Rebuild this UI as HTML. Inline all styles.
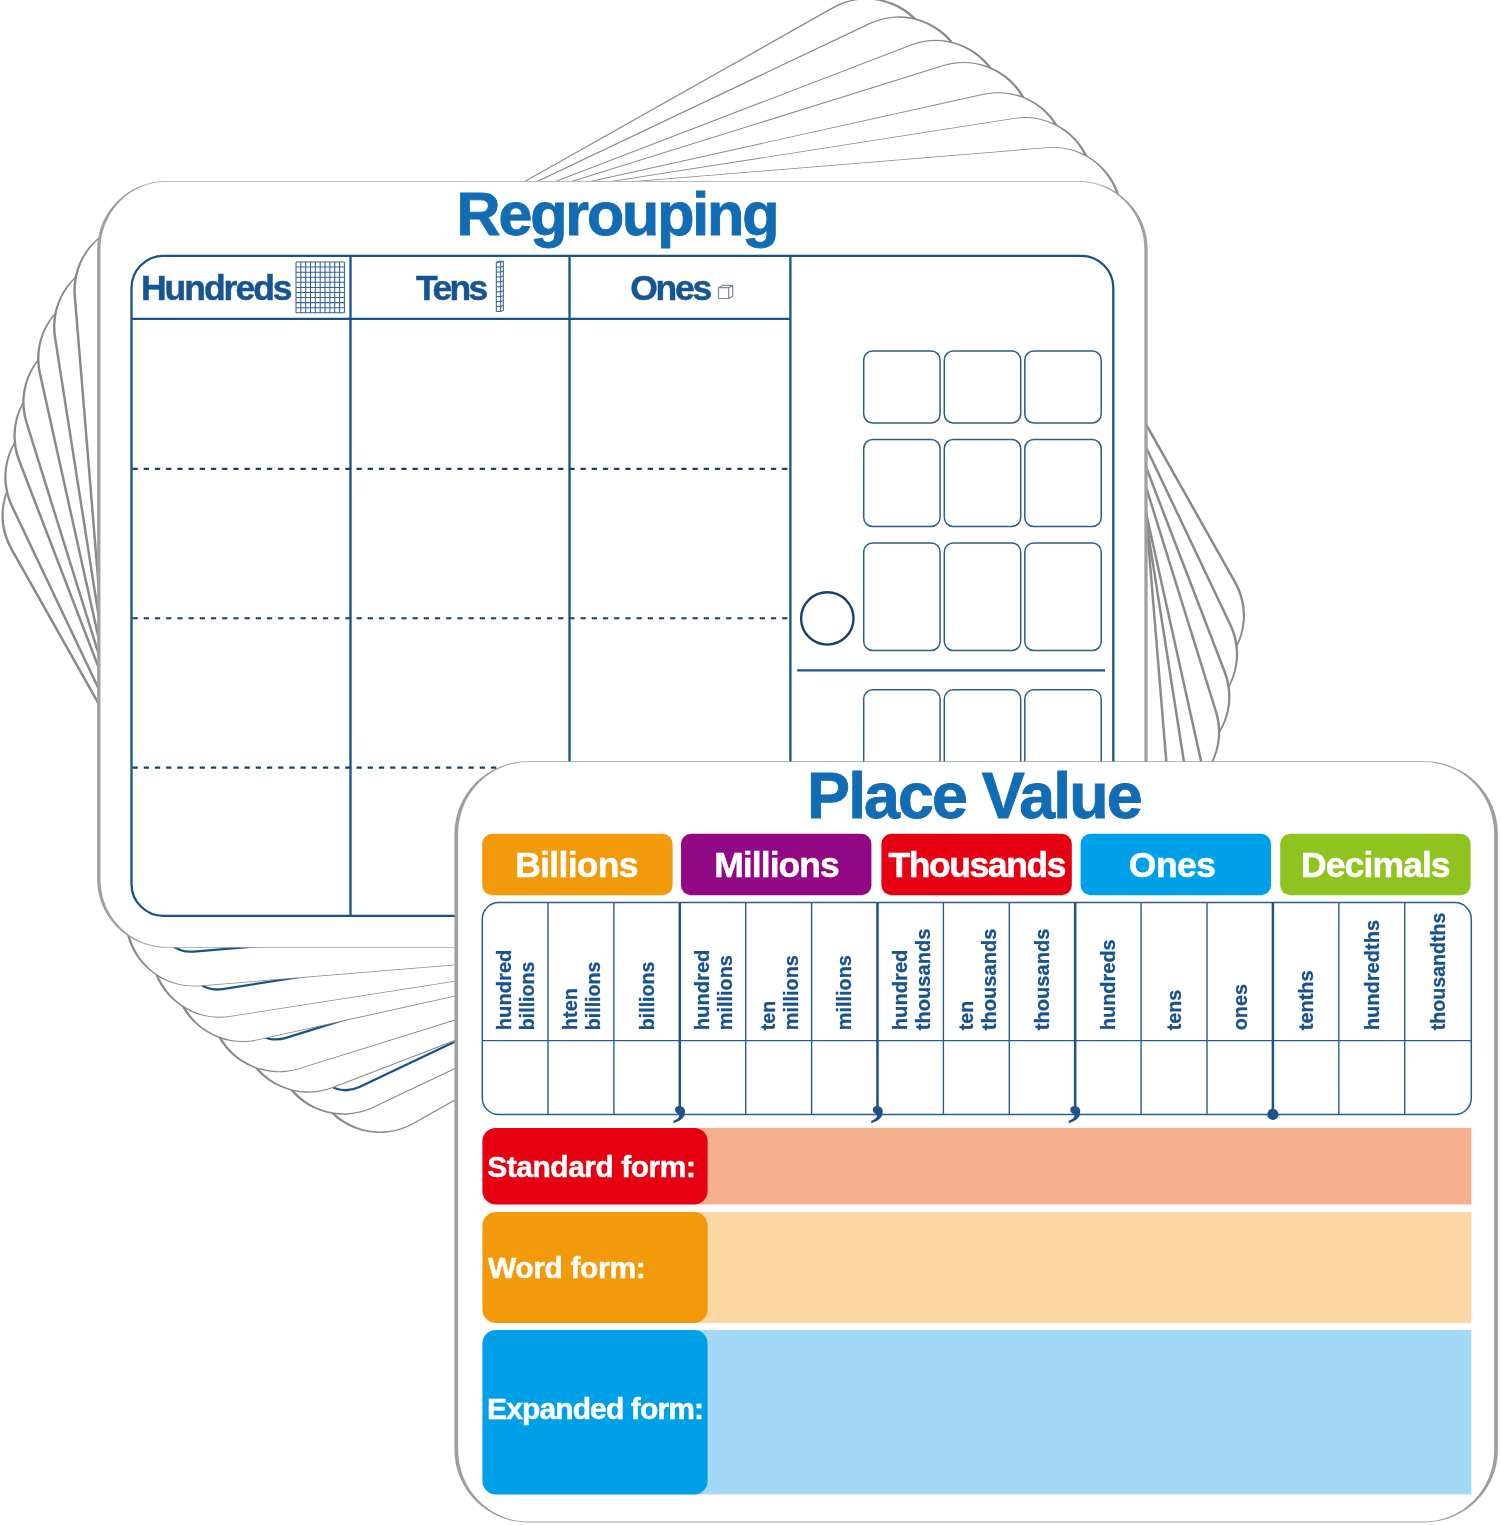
<!DOCTYPE html>
<html lang="en">
<head>
<meta charset="utf-8">
<title>Regrouping and Place Value dry erase boards</title>
<style>
html,body{margin:0;padding:0;background:#fff}
svg{display:block}
text{font-family:"Liberation Sans",sans-serif;font-weight:bold}
</style>
</head>
<body>
<svg width="1500" height="1525" viewBox="0 0 1500 1525">
<rect width="1500" height="1525" fill="#fff"/>
<g id="back-boards">
<g transform="translate(-22.04,489.54) rotate(-29.4)"><rect x="-1.25" y="-0.65" width="1052.20" height="767.29" rx="69.25" ry="68.64" fill="#8a8a8a"/><rect x="1.25" y="0.65" width="1047.20" height="764.71" rx="66.75" ry="67.36" fill="#fff"/></g>
<g transform="translate(-17.21,444.69) rotate(-25.4)"><rect x="-1.25" y="-0.60" width="1052.20" height="767.20" rx="69.25" ry="68.60" fill="#8a8a8a"/><rect x="1.25" y="0.60" width="1047.20" height="764.80" rx="66.75" ry="67.40" fill="#fff"/><rect x="32.7" y="74.6" width="981.8" height="667.2" rx="32" ry="32" fill="none" stroke="#18528c" stroke-width="2.3"/></g>
<g transform="translate(-5.32,396.77) rotate(-21.0)"><rect x="-1.25" y="-0.55" width="1052.20" height="767.11" rx="69.25" ry="68.56" fill="#8a8a8a"/><rect x="1.25" y="0.55" width="1047.20" height="764.89" rx="66.75" ry="67.44" fill="#fff"/></g>
<g transform="translate(6.27,357.51) rotate(-17.3)"><rect x="-1.25" y="-0.51" width="1052.20" height="767.02" rx="69.25" ry="68.51" fill="#8a8a8a"/><rect x="1.25" y="0.51" width="1047.20" height="764.98" rx="66.75" ry="67.49" fill="#fff"/><rect x="32.7" y="74.6" width="981.8" height="658.2" rx="32" ry="32" fill="none" stroke="#18528c" stroke-width="2.3"/></g>
<g transform="translate(25.14,306.75) rotate(-12.5)"><rect x="-1.25" y="-0.46" width="1052.20" height="766.93" rx="69.25" ry="68.47" fill="#8a8a8a"/><rect x="1.25" y="0.46" width="1047.20" height="765.07" rx="66.75" ry="67.53" fill="#fff"/></g>
<g transform="translate(44.49,270.17) rotate(-8.9)"><rect x="-1.25" y="-0.42" width="1052.20" height="766.84" rx="69.25" ry="68.42" fill="#8a8a8a"/><rect x="1.25" y="0.42" width="1047.20" height="765.16" rx="66.75" ry="67.58" fill="#fff"/><rect x="32.7" y="74.6" width="981.8" height="663.2" rx="32" ry="32" fill="none" stroke="#18528c" stroke-width="2.3"/></g>
<g transform="translate(69.21,228.06) rotate(-4.7)"><rect x="-1.25" y="-0.38" width="1052.20" height="766.75" rx="69.25" ry="68.38" fill="#8a8a8a"/><rect x="1.25" y="0.38" width="1047.20" height="765.25" rx="66.75" ry="67.62" fill="#fff"/><rect x="32.7" y="74.6" width="981.8" height="656.7" rx="32" ry="32" fill="none" stroke="#18528c" stroke-width="2.3"/></g>
</g>
<g id="regrouping">
<g transform="translate(98.8,181.3)"><rect x="-1.65" y="-0.40" width="1050.50" height="766.80" rx="69.65" ry="68.40" fill="#a0a0a0"/><rect x="1.65" y="0.40" width="1043.90" height="765.20" rx="66.35" ry="67.60" fill="#fff"/></g>
<text x="618" y="235.4" font-size="61" text-anchor="middle" fill="#126cb4" stroke="#126cb4" stroke-width="0.9" textLength="323" lengthAdjust="spacing">Regrouping</text>
<rect x="131.5" y="255.9" width="981.8" height="660.0" rx="32" ry="32" fill="none" stroke="#18528c" stroke-width="2.3"/>
<path d="M131.5 318.8H790.4M350.5 255.9V915.9M569.5 255.9V915.9M790.4 255.9V915.9" stroke="#18528c" stroke-width="2.3" fill="none"/>
<path d="M131.5 468.9H790.3M131.5 618.2H790.3M131.5 767.6H790.3" stroke="#173f6c" stroke-width="2.1" stroke-dasharray="5.3 5.9" stroke-dashoffset="-1" fill="none"/>
<text x="140.9" y="300" font-size="35.5" fill="#175591" stroke="#175591" stroke-width="0.5" textLength="151.7" lengthAdjust="spacing">Hundreds</text>
<text x="416" y="299.8" font-size="35.5" fill="#175591" stroke="#175591" stroke-width="0.5" textLength="72.2" lengthAdjust="spacing">Tens</text>
<text x="630.2" y="299.8" font-size="35.5" fill="#175591" stroke="#175591" stroke-width="0.5" textLength="82" lengthAdjust="spacing">Ones</text>
<path d="M296.00 262.0V312.80M296.0 262.00H344.40M300.84 262.0V312.80M296.0 267.08H344.40M305.68 262.0V312.80M296.0 272.16H344.40M310.52 262.0V312.80M296.0 277.24H344.40M315.36 262.0V312.80M296.0 282.32H344.40M320.20 262.0V312.80M296.0 287.40H344.40M325.04 262.0V312.80M296.0 292.48H344.40M329.88 262.0V312.80M296.0 297.56H344.40M334.72 262.0V312.80M296.0 302.64H344.40M339.56 262.0V312.80M296.0 307.72H344.40M344.40 262.0V312.80M296.0 312.80H344.40" stroke="#33609c" stroke-width="1.05" fill="none"/>
<path d="M496.3 262.2h4.4v49.2h-4.4zM496.3 267.12h4.4l2.6 -0.9M496.3 272.04h4.4l2.6 -0.9M496.3 276.96h4.4l2.6 -0.9M496.3 281.88h4.4l2.6 -0.9M496.3 286.80h4.4l2.6 -0.9M496.3 291.72h4.4l2.6 -0.9M496.3 296.64h4.4l2.6 -0.9M496.3 301.56h4.4l2.6 -0.9M496.3 306.48h4.4l2.6 -0.9M496.3 262.2l2.6 -0.9h4.4l-2.6 0.9M500.7 311.4l2.6 -0.9V261.3" stroke="#2f5a92" stroke-width="1" fill="none"/>
<path d="M718.5 287.7h10.2v10.8h-10.2zM718.5 287.7l4.0 -2.3h10.2l-4.0 2.3M728.7 298.5l4.0 -2.3v-10.8" stroke="#7c8894" stroke-width="1.2" fill="none" stroke-linejoin="round"/>
<rect x="863.7" y="351.0" width="76.4" height="72.0" rx="9" ry="9" fill="none" stroke="#2f5c8a" stroke-width="1.5"/>
<rect x="944.3" y="351.0" width="76.4" height="72.0" rx="9" ry="9" fill="none" stroke="#2f5c8a" stroke-width="1.5"/>
<rect x="1024.8" y="351.0" width="76.4" height="72.0" rx="9" ry="9" fill="none" stroke="#2f5c8a" stroke-width="1.5"/>
<rect x="863.7" y="439.5" width="76.4" height="87.0" rx="9" ry="9" fill="none" stroke="#2f5c8a" stroke-width="1.5"/>
<rect x="944.3" y="439.5" width="76.4" height="87.0" rx="9" ry="9" fill="none" stroke="#2f5c8a" stroke-width="1.5"/>
<rect x="1024.8" y="439.5" width="76.4" height="87.0" rx="9" ry="9" fill="none" stroke="#2f5c8a" stroke-width="1.5"/>
<rect x="863.7" y="542.9" width="76.4" height="107.6" rx="9" ry="9" fill="none" stroke="#2f5c8a" stroke-width="1.5"/>
<rect x="944.3" y="542.9" width="76.4" height="107.6" rx="9" ry="9" fill="none" stroke="#2f5c8a" stroke-width="1.5"/>
<rect x="1024.8" y="542.9" width="76.4" height="107.6" rx="9" ry="9" fill="none" stroke="#2f5c8a" stroke-width="1.5"/>
<rect x="863.7" y="689.8" width="76.4" height="110.0" rx="9" ry="9" fill="none" stroke="#2f5c8a" stroke-width="1.5"/>
<rect x="944.3" y="689.8" width="76.4" height="110.0" rx="9" ry="9" fill="none" stroke="#2f5c8a" stroke-width="1.5"/>
<rect x="1024.8" y="689.8" width="76.4" height="110.0" rx="9" ry="9" fill="none" stroke="#2f5c8a" stroke-width="1.5"/>
<path d="M797.2 670.3H1105" stroke="#18528c" stroke-width="2.3" fill="none"/>
<circle cx="827.3" cy="618.4" r="26.2" fill="none" stroke="#17426f" stroke-width="2.4"/>
</g>
<g id="place-value">
<g transform="translate(456.3,761.6)"><rect x="-1.85" y="-0.45" width="1043.40" height="761.30" rx="73.85" ry="72.45" fill="#9e9e9e"/><rect x="1.85" y="0.45" width="1036.00" height="759.50" rx="70.15" ry="71.55" fill="#fff"/></g>
<text x="807.1" y="818.2" font-size="64.5" fill="#126cb4" stroke="#126cb4" stroke-width="0.9" textLength="335.4" lengthAdjust="spacing">Place Value</text>
<rect x="482.2" y="833.8" width="190.4" height="61.4" rx="10" ry="10" fill="#f39a0b"/>
<text x="515.2" y="877.0" font-size="35.5" fill="#fff" stroke="#fff" stroke-width="0.5" textLength="123.4" lengthAdjust="spacing">Billions</text>
<rect x="681.0" y="833.8" width="190.4" height="61.4" rx="10" ry="10" fill="#920783"/>
<text x="714.2" y="877.0" font-size="35.5" fill="#fff" stroke="#fff" stroke-width="0.5" textLength="125.6" lengthAdjust="spacing">Millions</text>
<rect x="881.4" y="833.8" width="190.4" height="61.4" rx="10" ry="10" fill="#e60012"/>
<text x="888.4" y="877.0" font-size="35.5" fill="#fff" stroke="#fff" stroke-width="0.5" textLength="178.1" lengthAdjust="spacing">Thousands</text>
<rect x="1080.6" y="833.8" width="190.4" height="61.4" rx="10" ry="10" fill="#00a0e9"/>
<text x="1128.8" y="877.0" font-size="35.5" fill="#fff" stroke="#fff" stroke-width="0.5" textLength="87.2" lengthAdjust="spacing">Ones</text>
<rect x="1280.2" y="833.8" width="190.4" height="61.4" rx="10" ry="10" fill="#8fc31f"/>
<text x="1301.0" y="877.0" font-size="35.5" fill="#fff" stroke="#fff" stroke-width="0.5" textLength="149.6" lengthAdjust="spacing">Decimals</text>
<rect x="482.3" y="902.6" width="989.00" height="212.00" rx="16.5" ry="16.5" fill="none" stroke="#2a5c94" stroke-width="1.5"/>
<path d="M482.3 1040.6H1471.3M548.00 902.6V1114.6M613.90 902.6V1114.6M745.70 902.6V1114.6M811.60 902.6V1114.6M943.40 902.6V1114.6M1009.30 902.6V1114.6M1141.10 902.6V1114.6M1207.00 902.6V1114.6M1338.80 902.6V1114.6M1404.70 902.6V1114.6" stroke="#2a5c94" stroke-width="1.4" fill="none"/>
<path d="M679.80 902.6V1114.6M877.50 902.6V1114.6M1075.20 902.6V1114.6M1272.90 902.6V1114.6" stroke="#1f5288" stroke-width="2.5" fill="none"/>
<text x="672.70" y="1113.9" font-size="58" fill="#1f5288" style="font-family:'Liberation Serif',serif">,</text>
<text x="870.40" y="1113.9" font-size="58" fill="#1f5288" style="font-family:'Liberation Serif',serif">,</text>
<text x="1068.10" y="1113.9" font-size="58" fill="#1f5288" style="font-family:'Liberation Serif',serif">,</text>
<circle cx="1272.90" cy="1114.4" r="5.6" fill="#1f5288"/>
<text transform="translate(511.45,1030.2) rotate(-90)" font-size="21" fill="#17518e" stroke="#17518e" stroke-width="0.3" textLength="80.6" lengthAdjust="spacingAndGlyphs">hundred</text>
<text transform="translate(534.45,1030.2) rotate(-90)" font-size="21" fill="#17518e" stroke="#17518e" stroke-width="0.3" textLength="68.5" lengthAdjust="spacingAndGlyphs">billions</text>
<text transform="translate(577.35,1030.2) rotate(-90)" font-size="21" fill="#17518e" stroke="#17518e" stroke-width="0.3" textLength="42.2" lengthAdjust="spacingAndGlyphs">hten</text>
<text transform="translate(600.35,1030.2) rotate(-90)" font-size="21" fill="#17518e" stroke="#17518e" stroke-width="0.3" textLength="68.5" lengthAdjust="spacingAndGlyphs">billions</text>
<text transform="translate(653.75,1030.2) rotate(-90)" font-size="21" fill="#17518e" stroke="#17518e" stroke-width="0.3" textLength="68.5" lengthAdjust="spacingAndGlyphs">billions</text>
<text transform="translate(709.15,1030.2) rotate(-90)" font-size="21" fill="#17518e" stroke="#17518e" stroke-width="0.3" textLength="80.6" lengthAdjust="spacingAndGlyphs">hundred</text>
<text transform="translate(732.15,1030.2) rotate(-90)" font-size="21" fill="#17518e" stroke="#17518e" stroke-width="0.3" textLength="75.0" lengthAdjust="spacingAndGlyphs">millions</text>
<text transform="translate(775.05,1030.2) rotate(-90)" font-size="21" fill="#17518e" stroke="#17518e" stroke-width="0.3" textLength="29.3" lengthAdjust="spacingAndGlyphs">ten</text>
<text transform="translate(798.05,1030.2) rotate(-90)" font-size="21" fill="#17518e" stroke="#17518e" stroke-width="0.3" textLength="75.0" lengthAdjust="spacingAndGlyphs">millions</text>
<text transform="translate(851.45,1030.2) rotate(-90)" font-size="21" fill="#17518e" stroke="#17518e" stroke-width="0.3" textLength="75.0" lengthAdjust="spacingAndGlyphs">millions</text>
<text transform="translate(906.85,1030.2) rotate(-90)" font-size="21" fill="#17518e" stroke="#17518e" stroke-width="0.3" textLength="80.6" lengthAdjust="spacingAndGlyphs">hundred</text>
<text transform="translate(929.85,1030.2) rotate(-90)" font-size="21" fill="#17518e" stroke="#17518e" stroke-width="0.3" textLength="101.6" lengthAdjust="spacingAndGlyphs">thousands</text>
<text transform="translate(972.75,1030.2) rotate(-90)" font-size="21" fill="#17518e" stroke="#17518e" stroke-width="0.3" textLength="29.3" lengthAdjust="spacingAndGlyphs">ten</text>
<text transform="translate(995.75,1030.2) rotate(-90)" font-size="21" fill="#17518e" stroke="#17518e" stroke-width="0.3" textLength="101.6" lengthAdjust="spacingAndGlyphs">thousands</text>
<text transform="translate(1049.15,1030.2) rotate(-90)" font-size="21" fill="#17518e" stroke="#17518e" stroke-width="0.3" textLength="101.6" lengthAdjust="spacingAndGlyphs">thousands</text>
<text transform="translate(1115.05,1030.2) rotate(-90)" font-size="21" fill="#17518e" stroke="#17518e" stroke-width="0.3" textLength="90.9" lengthAdjust="spacingAndGlyphs">hundreds</text>
<text transform="translate(1180.95,1030.2) rotate(-90)" font-size="21" fill="#17518e" stroke="#17518e" stroke-width="0.3" textLength="40.5" lengthAdjust="spacingAndGlyphs">tens</text>
<text transform="translate(1246.85,1030.2) rotate(-90)" font-size="21" fill="#17518e" stroke="#17518e" stroke-width="0.3" textLength="46.1" lengthAdjust="spacingAndGlyphs">ones</text>
<text transform="translate(1312.75,1030.2) rotate(-90)" font-size="21" fill="#17518e" stroke="#17518e" stroke-width="0.3" textLength="59.7" lengthAdjust="spacingAndGlyphs">tenths</text>
<text transform="translate(1378.65,1030.2) rotate(-90)" font-size="21" fill="#17518e" stroke="#17518e" stroke-width="0.3" textLength="110.3" lengthAdjust="spacingAndGlyphs">hundredths</text>
<text transform="translate(1444.55,1030.2) rotate(-90)" font-size="21" fill="#17518e" stroke="#17518e" stroke-width="0.3" textLength="117.7" lengthAdjust="spacingAndGlyphs">thousandths</text>
<rect x="695" y="1127.9" width="776.3" height="76.6" fill="#f5b090"/>
<rect x="482.4" y="1127.9" width="225.2" height="76.6" rx="13.5" ry="13.5" fill="#e60012"/>
<text x="487.3" y="1177.0" font-size="30" fill="#fff" stroke="#fff" stroke-width="0.45" textLength="208.6" lengthAdjust="spacing">Standard form:</text>
<rect x="695" y="1212.0" width="776.3" height="111.0" fill="#fcd7a4"/>
<rect x="482.4" y="1212.0" width="225.2" height="111.0" rx="13.5" ry="13.5" fill="#f39a0b"/>
<text x="487.9" y="1278.1" font-size="30" fill="#fff" stroke="#fff" stroke-width="0.45" textLength="157.8" lengthAdjust="spacing">Word form:</text>
<rect x="695" y="1330.0" width="776.3" height="164.4" fill="#a3d8f6"/>
<rect x="482.4" y="1330.0" width="225.2" height="164.4" rx="13.5" ry="13.5" fill="#00a0e9"/>
<text x="487.0" y="1419.2" font-size="30" fill="#fff" stroke="#fff" stroke-width="0.45" textLength="217.0" lengthAdjust="spacing">Expanded form:</text>
</g>
</svg>
</body>
</html>
